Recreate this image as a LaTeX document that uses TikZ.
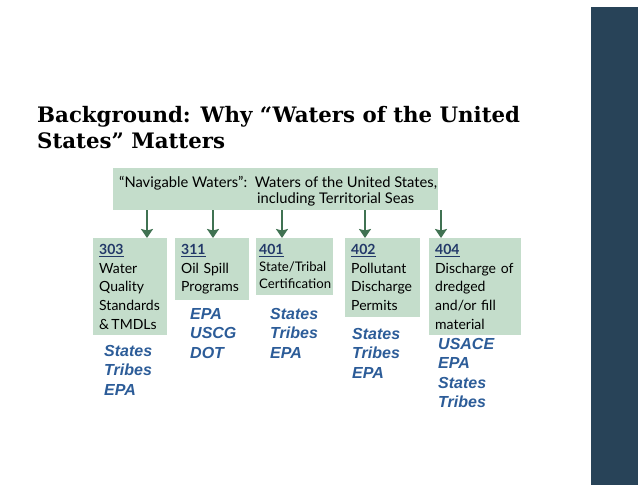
\documentclass[tikz,border=0pt]{standalone}
\usepackage{fontspec}
\setmainfont{Lato}
\newfontfamily\titlefont{DejaVu Serif}
\newfontfamily\agencyfont{Liberation Sans}
\usetikzlibrary{arrows.meta}
\definecolor{boxgreen}{RGB}{196,221,203}
\definecolor{arrgreen}{RGB}{64,114,82}
\definecolor{navy}{RGB}{34,56,104}
\definecolor{agblue}{RGB}{44,92,152}
\definecolor{sidebar}{RGB}{40,67,88}

\tikzset{sec/.style={fill=boxgreen, anchor=north west, align=left, inner xsep=6pt, inner ysep=6pt,
                     font=\fontsize{14}{18.7}\selectfont},
         who/.style={anchor=north west, align=left, inner sep=0pt, text=agblue,
                     font=\agencyfont\fontsize{16}{19.5}\selectfont\bfseries\itshape},
         down/.style={arrgreen, line width=2.2pt, -{Stealth[width=12pt,length=9pt,inset=1.5pt]}}}
\newcommand{\num}[1]{\textcolor{navy}{\textbf{\underline{#1}}}}

\begin{document}
\begin{tikzpicture}[x=1pt, y=-1pt]
\useasboundingbox (0,0) rectangle (638,493);
\fill[sidebar] (591,7) rectangle (638,485);
\node[anchor=north west, align=left, inner sep=0pt, font=\titlefont\fontsize{21.3}{26}\selectfont\bfseries]
  (title) at (37,106) {Background: Why “Waters of the United\\States” Matters};

\node[fill=boxgreen, anchor=north west, minimum width=325pt, minimum height=42pt, inner sep=0pt] (nav) at (113,168) {};
\node[anchor=west, inner sep=0pt, font=\fontsize{14.7}{16}\selectfont] (navtxt) at (119,183)
  {“Navigable Waters”:\ \ Waters of the United States,};
\node[anchor=west, inner sep=0pt, font=\fontsize{14.7}{16}\selectfont] (navtxt2) at (257,199)
  {including Territorial Seas};

% sections
\node[sec, text width=62pt] (s303) at (93,238) {\num{303}\\Water\\Quality\\Standards\\\&\,TMDLs};
\node[sec, text width=62pt] (s311) at (175,238) {\num{311}\\Oil Spill\\Programs};
\node[sec, text width=71pt, inner xsep=3pt, font=\fontsize{13.2}{17}\selectfont] (s401) at (256,238) {\num{\fontsize{14}{19}\selectfont 401}\\State/Tribal\\Certification};
\node[sec, text width=63pt] (s402) at (345,238) {\num{402}\\Pollutant\\Discharge\\Permits};
\node[sec, text width=80pt] (s404) at (429,238) {\num{404}\\Discharge of\\dredged\\and/or fill\\material};

% who runs them
\node[who] (w303) at (104,345) {States\\Tribes\\EPA};
\node[who] (w311) at (190,308) {EPA\\USCG\\DOT};
\node[who] (w401) at (270,308) {States\\Tribes\\EPA};
\node[who] (w402) at (352,328) {States\\Tribes\\EPA};
\node[who] (w404) at (438,338) {USACE\\EPA\\States\\Tribes};

\draw[down] (nav.south -| 147,0) -- (s303.north -| 147,0);
\draw[down] (nav.south -| 213,0) -- (s311.north -| 213,0);
\draw[down] (nav.south -| 282,0) -- (s401.north -| 282,0);
\draw[down] (nav.south -| 365,0) -- (s402.north -| 365,0);
\draw[down] (nav.south -| 441,0) -- (s404.north -| 441,0);
\end{tikzpicture}
\end{document}
